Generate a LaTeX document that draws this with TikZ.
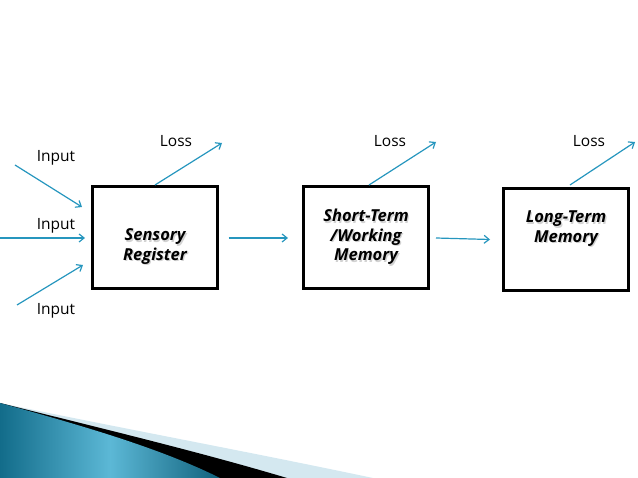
\documentclass[tikz,border=0pt]{standalone}
\usepackage{fontspec}
\setmainfont{Open Sans}
\usetikzlibrary{arrows.meta,shadows}

\definecolor{flowteal}{RGB}{38,150,190}
\definecolor{paleblue}{RGB}{212,232,240}
\definecolor{deepteal}{RGB}{18,108,138}
\definecolor{lightteal}{RGB}{92,184,214}

\tikzset{
    memory/.style={draw=black, line width=3pt, fill=white, minimum width=125pt, minimum height=102pt,
        drop shadow={opacity=0.3, shadow xshift=1.5pt, shadow yshift=-1.5pt}},
    memlabel/.style={align=center, font=\fontsize{16.5}{19.5}\selectfont\bfseries\itshape},
    memshadow/.style={memlabel, text=black!35, opacity=0.5},
    tag/.style={font=\fontsize{15.5}{18}\selectfont},
    flow/.style={draw=flowteal, line width=1.2pt, -{Straight Barb[length=5pt,width=8pt]}}
}

\newcommand{\memtext}[3]{%
    \node[memshadow] at ([shift={(1.2,1.5)}]#2) {#3};
    \node[memlabel] (#1) at (#2) {#3};
}

\begin{document}
\begin{tikzpicture}[x=1pt,y=-1pt]
        \useasboundingbox (0,0) rectangle (638,478);

        % bottom swoosh
        \fill[paleblue] (0,403) .. controls (120,428) and (250,452) .. (373,478) -- (0,478) -- cycle;
        \fill[black] (0,403) .. controls (100,428) and (200,452) .. (287,478) -- (0,478) -- cycle;
        \shade[left color=deepteal, right color=deepteal!90!black, middle color=lightteal]
            (0,403) .. controls (80,425) and (160,448) .. (220,478) -- (0,478) -- cycle;

        \node[memory] (sr) at (154.5,238) {};
        \node[memory] (stm) at (366,238) {};
        \node[memory] (ltm) at (566,239.5) {};

        \memtext{srtext}{155,246.5}{Sensory\\Register}
        \memtext{stmtext}{366,237}{Short-Term\\/Working\\Memory}
        \memtext{ltmtext}{566,228.5}{Long-Term\\Memory}

        \node[tag] (in1) at (56,158) {Input};
        \node[tag] (in2) at (56,226) {Input};
        \node[tag] (in3) at (56,311) {Input};
        \node[tag] (loss1) at (176,141) {Loss};
        \node[tag] (loss2) at (390,141) {Loss};
        \node[tag] (loss3) at (589,141) {Loss};

        \coordinate (in1from) at (15,165);
        \coordinate (in1to) at (82,207);
        \coordinate (in2from) at (0,238);
        \coordinate (in2to) at (85,238);
        \coordinate (in3from) at (17,305);
        \coordinate (in3to) at (83,265);
        \coordinate (loss1from) at (155,185);
        \coordinate (loss1to) at (222,143);
        \coordinate (loss2from) at (369,185);
        \coordinate (loss2to) at (436,142);
        \coordinate (loss3from) at (570,185);
        \coordinate (loss3to) at (635,142);

        \path (in1from) edge[flow] (in1to);
        \path (in2from) edge[flow] (in2to);
        \path (in3from) edge[flow] (in3to);
        \path (loss1from) edge[flow] (loss1to);
        \path (loss2from) edge[flow] (loss2to);
        \path (loss3from) edge[flow] (loss3to);
        \path ([xshift=10pt]sr.east) edge[flow] ([xshift=-14pt]stm.west);
        \path ([xshift=6pt]stm.east) edge[flow] ([xshift=-12pt]ltm.west);
    \end{tikzpicture}
\end{document}
